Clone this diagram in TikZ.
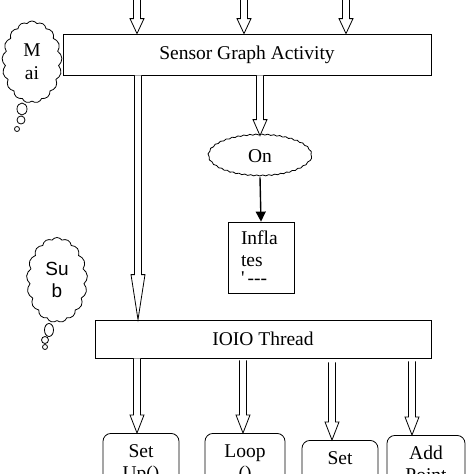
\documentclass[tikz,border=0pt]{standalone}
\usepackage{fontspec}
\setmainfont{Liberation Serif}
\setsansfont{Liberation Sans}
\usetikzlibrary{arrows.meta,calc,positioning,shapes.geometric,shapes.symbols,decorations.pathmorphing}

% hollow block arrow: [head length]{from}{to}
\newcommand\hollowarrow[3][16]{%
  \draw[line width=0.8pt,fill=white,line join=miter] let \p1=(#2), \p2=(#3) in
    (\x1-3.5pt,\y1) -- (\x1-3.5pt,\y2+#1pt) -- (\x1-7pt,\y2+#1pt) -- (\x1,\y2)
    -- (\x1+7pt,\y2+#1pt) -- (\x1+3.5pt,\y2+#1pt) -- (\x1+3.5pt,\y1);}

\tikzset{
  barbox/.style={draw,line width=0.8pt,inner sep=0pt,minimum width=#1},
  taskbox/.style={draw,line width=0.8pt,rounded corners=8pt,anchor=north,align=center,
                  inner xsep=2pt,inner ysep=11pt,minimum width=#1},
  thought/.style={cloud,draw,line width=0.8pt,cloud puffs=17,cloud puff arc=110,
                  inner sep=0pt,align=center},
  bubble/.style={ellipse,draw,line width=0.8pt,inner sep=0pt,minimum width=#1,minimum height=#1},
}

\begin{document}
\begin{tikzpicture}[x=1pt,y=-1pt,font=\fontsize{19.5}{22}\selectfont]
 \useasboundingbox (0,0) rectangle (474,474);
 \clip (0,0) rectangle (474,474);

 % main activity
 \node[barbox=368pt,minimum height=41pt] (sga) at (247,54.5) {Sensor Graph Activity};
 \node[thought,aspect=0.75,minimum width=60pt,minimum height=82pt] (mai) at (32,62) {M\\[1pt]ai};
 \node[bubble=10pt,minimum height=12pt] (mai1) at (22,109) {};
 \node[bubble=8pt] (mai2) at (21,120) {};
 \node[bubble=5pt] (mai3) at (17,129) {};

 % inputs from above
 \coordinate (inA) at (137,-5);
 \coordinate (inB) at (244,-5);
 \coordinate (inC) at (346,-5);
 \foreach \c in {inA,inB,inC}
   \hollowarrow[15]{\c}{sga.north -| \c};

 % on event
 \node[ellipse,draw,line width=0.8pt,inner sep=0pt,minimum width=103pt,minimum height=41pt,
       decorate,decoration={snake,amplitude=0.5pt,segment length=6pt}] (on) at (260,156.5) {On};
 \hollowarrow[16]{sga.south -| on}{on.north};
 \node[draw,line width=0.8pt,minimum width=66pt,minimum height=71pt,text width=40pt,
       inner xsep=13pt,inner ysep=0pt,align=left] (inf) at (261,257.5)
       {Infla\\tes\\[-4pt]{\textquotesingle}\,{-}{-}{-}};
 \draw[line width=1.4pt,-{Triangle[width=10pt,length=10pt]}] (on.south) -- (inf.north);

 % sub thread
 \node[barbox=336pt,minimum height=38pt] (ioio) at (263,339) {IOIO Thread};
 \node[thought,font=\fontsize{19}{22}\sffamily,aspect=0.72,minimum width=61pt,minimum height=85pt]
       (sub) at (57,280) {Su\\b};
 \node[bubble=9pt,minimum height=13pt] (sub1) at (49,330) {};
 \node[bubble=7pt] (sub2) at (45,340) {};
 \node[bubble=5pt] (sub3) at (45,347) {};
 \coordinate (colA) at (138,0);
 \hollowarrow[45]{sga.south -| colA}{ioio.north -| colA};

 % tasks
 \node[taskbox=76pt] (setup) at (141,433) {Set\\Up()};
 \node[taskbox=80pt] (loop)  at (245,433) {Loop\\()};
 \node[taskbox=76pt] (setv)  at (340,440) {Set\\[8pt]\mbox{}};
 \node[taskbox=78pt] (addp)  at (426,435) {Add\\Point};
 \coordinate (colE) at (137,0);
 \coordinate (colF) at (243,0);
 \coordinate (colG) at (332,0);
 \coordinate (colH) at (412,0);
 \hollowarrow[18]{ioio.south -| colE}{setup.north -| colE};
 \hollowarrow[18]{$(ioio.south -| colF)+(0,2)$}{loop.north -| colF};
 \hollowarrow[18]{$(ioio.south -| colG)+(0,4)$}{setv.north -| colG};
 \hollowarrow[18]{$(ioio.south -| colH)+(0,3)$}{addp.north -| colH};
\end{tikzpicture}
\end{document}
